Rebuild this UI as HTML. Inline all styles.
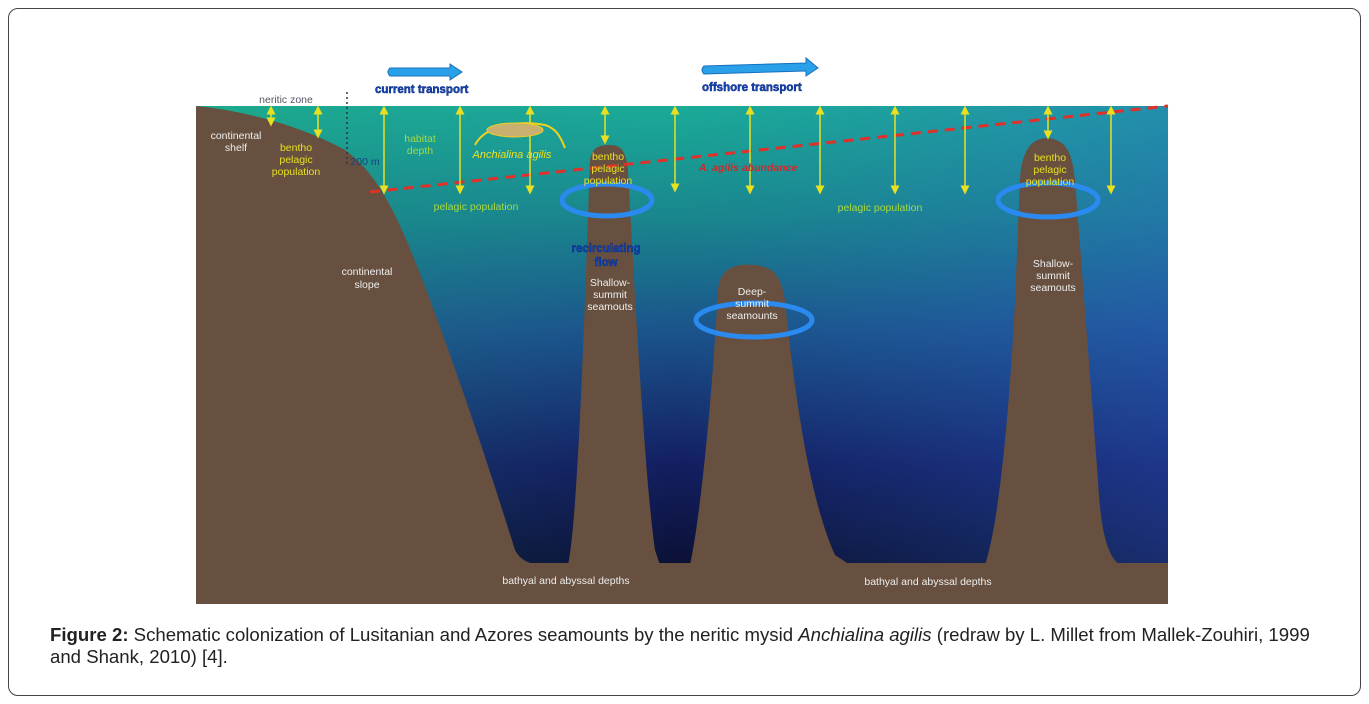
<!DOCTYPE html>
<html><head><style>
body{margin:0;width:1369px;height:704px;background:#fff;position:relative;font-family:"Liberation Sans",sans-serif;overflow:hidden}
.frame{position:absolute;left:8px;top:8px;width:1351px;height:686px;border:1px solid #444;border-radius:10px}
svg{position:absolute;left:0;top:0}
.cap{position:absolute;left:50px;top:624px;width:1280px;font-size:18.6px;line-height:22px;color:#222}
</style></head><body>
<div class="frame"></div>
<svg width="1369" height="704" viewBox="0 0 1369 704" font-family="Liberation Sans, sans-serif">
<defs>
<linearGradient id="v" x1="0" y1="0" x2="0" y2="1">
<stop offset="0" stop-color="#1aae95"/>
<stop offset="0.22" stop-color="#18888a"/>
<stop offset="0.45" stop-color="#1a5288"/>
<stop offset="0.72" stop-color="#121a5c"/>
<stop offset="1" stop-color="#06061a"/>
</linearGradient>
<linearGradient id="h" x1="0" y1="0" x2="1" y2="0">
<stop offset="0" stop-color="#1fa070" stop-opacity="0.3"/>
<stop offset="0.5" stop-color="#2a6fc0" stop-opacity="0.05"/>
<stop offset="1" stop-color="#3060d0" stop-opacity="0.4"/>
</linearGradient>
<marker id="a" markerWidth="6" markerHeight="6" refX="3" refY="3" orient="auto"><path d="M0,0 L6,3 L0,6z" fill="#e8e020"/></marker>
<marker id="b" markerWidth="6" markerHeight="6" refX="3" refY="3" orient="auto-start-reverse"><path d="M0,0 L6,3 L0,6z" fill="#e8e020"/></marker>
</defs>
<rect x="196" y="106" width="972" height="498" fill="url(#v)"/>
<rect x="196" y="106" width="972" height="498" fill="url(#h)"/>
<g fill="#67503f">
<path d="M196,106 C240,110 300,125 345,150 C380,175 400,220 430,300 C460,380 490,470 515,550 C520,560 530,565 545,565 L196,565Z"/>
<path d="M568,565 C578,520 585,300 590,160 C592,148 598,145 610,145 C622,145 626,152 628,170 C635,300 645,480 655,550 L660,565Z"/>
<path d="M690,565 C700,520 712,400 718,290 C720,268 735,263 755,265 C775,268 780,275 785,300 C795,400 810,500 835,555 L850,565Z"/>
<path d="M985,565 C1000,520 1010,400 1015,300 L1020,180 C1022,145 1035,138 1048,138 C1065,140 1072,150 1075,180 L1098,480 C1100,520 1105,555 1120,565Z"/>
<rect x="196" y="563" width="972" height="41"/>
</g>
<line x1="370" y1="192" x2="1168" y2="106" stroke="#e0302a" stroke-width="3" stroke-dasharray="10,7"/>
<g stroke="#e8e020" stroke-width="1.5" marker-start="url(#b)" marker-end="url(#a)">
<line x1="271" y1="110" x2="271" y2="122"/>
<line x1="318" y1="110" x2="318" y2="134"/>
<line x1="384" y1="110" x2="384" y2="190"/>
<line x1="460" y1="110" x2="460" y2="190"/>
<line x1="530" y1="110" x2="530" y2="190"/>
<line x1="605" y1="110" x2="605" y2="140"/>
<line x1="675" y1="110" x2="675" y2="188"/>
<line x1="750" y1="110" x2="750" y2="190"/>
<line x1="820" y1="110" x2="820" y2="190"/>
<line x1="895" y1="110" x2="895" y2="190"/>
<line x1="965" y1="110" x2="965" y2="190"/>
<line x1="1048" y1="110" x2="1048" y2="135"/>
<line x1="1111" y1="110" x2="1111" y2="190"/>
</g>
<line x1="347" y1="92" x2="347" y2="165" stroke="#334" stroke-width="1.5" stroke-dasharray="2,3"/>
<path d="M390,68 L450,68 L450,64 L462,72 L450,80 L450,76 L390,76 Q386,72 390,68Z" fill="#2aa0e8" stroke="#1870c0"/>
<path d="M704,66 L806,63 L806,58 L818,68 L806,76 L806,71 L704,74 Q700,70 704,66Z" fill="#2aa0e8" stroke="#1870c0"/>
<g font-weight="bold" font-size="11.5" fill="#1548b8" stroke="#0a2a80" stroke-width="0.5">
<text x="375" y="93">current transport</text>
<text x="702" y="91">offshore transport</text>
<text x="606" y="252" text-anchor="middle">recirculating</text>
<text x="606" y="266" text-anchor="middle">flow</text>
</g>
<g fill="none" stroke="#2a8af0" stroke-width="5">
<ellipse cx="607" cy="200" rx="45" ry="16"/>
<ellipse cx="754" cy="320" rx="58" ry="17"/>
<ellipse cx="1048" cy="200" rx="50" ry="17"/>
</g>
<g font-size="10.5" text-anchor="middle">
<text x="286" y="103" fill="#556">neritic zone</text>
<g fill="#eee"><text x="236" y="139">continental</text><text x="236" y="151">shelf</text>
<text x="367" y="275">continental</text><text x="367" y="288">slope</text>
<text x="610" y="286">Shallow-</text><text x="610" y="298">summit</text><text x="610" y="310">seamouts</text>
<text x="752" y="295">Deep-</text><text x="752" y="307">summit</text><text x="752" y="319">seamounts</text>
<text x="1053" y="267">Shallow-</text><text x="1053" y="279">summit</text><text x="1053" y="291">seamouts</text>
<text x="566" y="584">bathyal and abyssal depths</text><text x="928" y="585">bathyal and abyssal depths</text></g>
<g fill="#e8e020"><text x="296" y="151">bentho</text><text x="296" y="163">pelagic</text><text x="296" y="175">population</text>
<text x="608" y="160">bentho</text><text x="608" y="172">pelagic</text><text x="608" y="184">population</text>
<text x="1050" y="161">bentho</text><text x="1050" y="173">pelagic</text><text x="1050" y="185">population</text></g>
<g fill="#a8d840"><text x="420" y="142">habitat</text><text x="420" y="154">depth</text>
<text x="476" y="210">pelagic population</text><text x="880" y="211">pelagic population</text></g>
<text x="365" y="165" fill="#1a4080">200 m</text>
<text x="748" y="171" fill="#d02828" font-style="italic" font-weight="bold">A. agilis abundance</text>
<text x="512" y="158" fill="#f0e020" font-style="italic" font-size="11">Anchialina agilis</text>
</g>
<path d="M475,145 C485,125 520,120 545,125 C555,128 560,135 565,148" fill="none" stroke="#f0d020" stroke-width="2"/>
<ellipse cx="515" cy="130" rx="28" ry="7" fill="#c9b070" stroke="#f0d020"/>
</svg>
<div class="cap"><b>Figure 2:</b> Schematic colonization of Lusitanian and Azores seamounts by the neritic mysid <i>Anchialina agilis</i> (redraw by L. Millet from Mallek-Zouhiri, 1999 and Shank, 2010) [4].</div>
</body></html>
